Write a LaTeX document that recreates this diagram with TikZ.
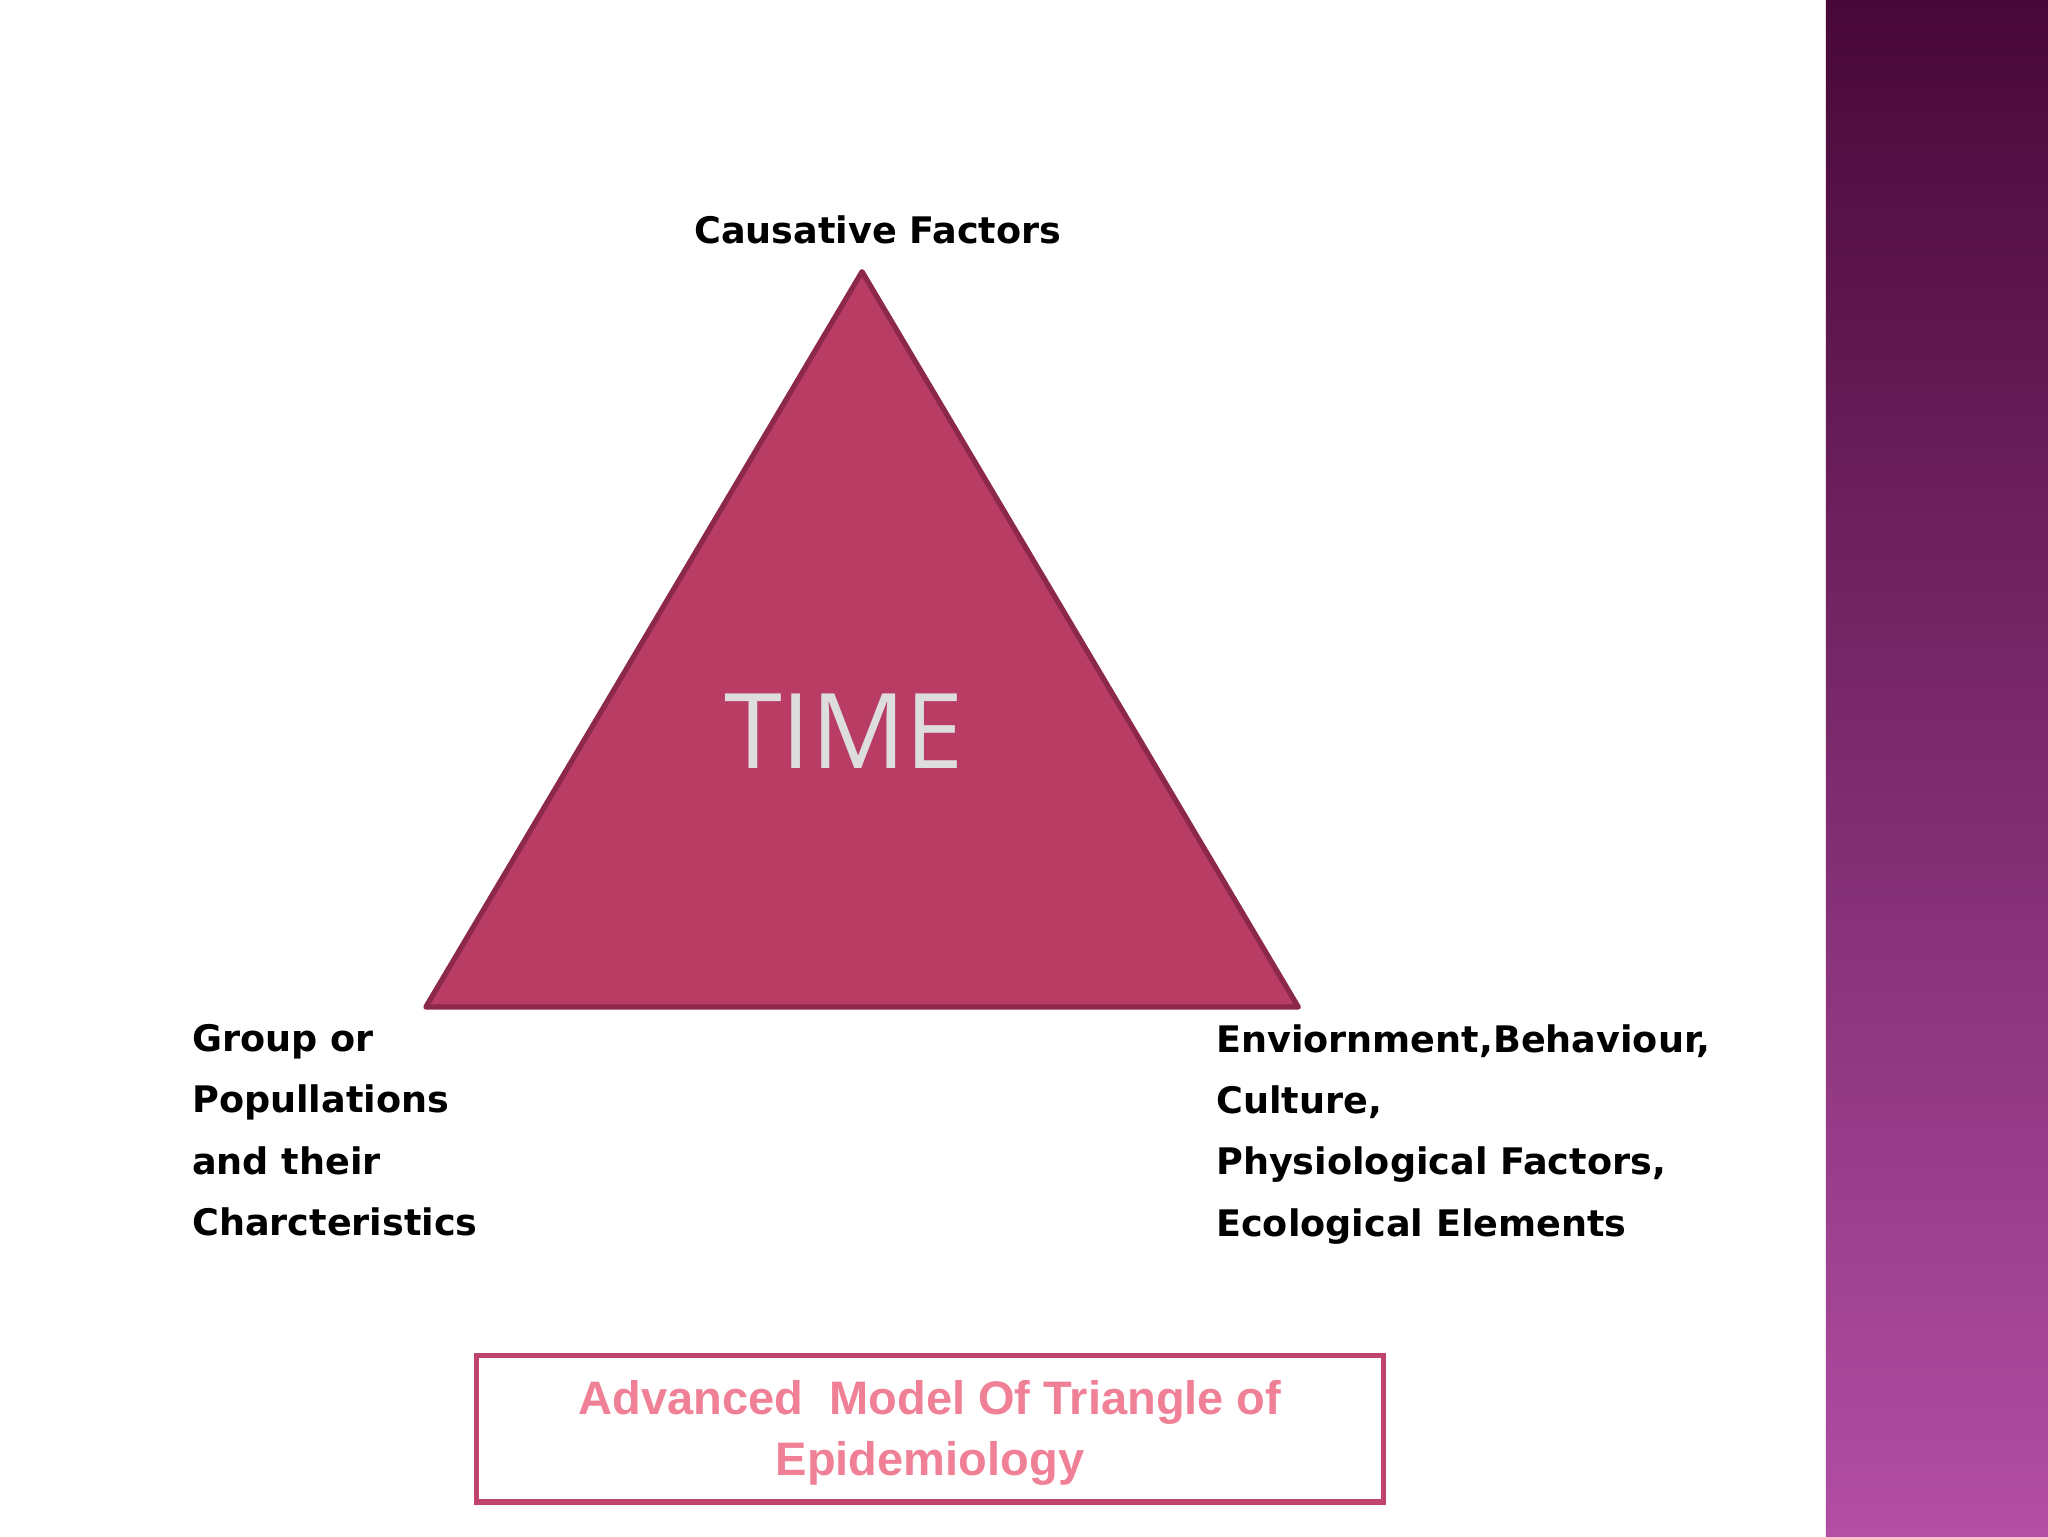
\documentclass[tikz,border=0pt]{standalone}
\usepackage{fontspec}
\setmainfont{DejaVu Sans}
\newfontfamily\timefont{Open Sans}
\newfontfamily\capfont{Liberation Sans}
\begin{document}
\begin{tikzpicture}[x=1pt,y=-1pt,
  lbl/.style={font=\bfseries\fontsize{28}{47}\selectfont,align=left,inner sep=0pt}]
\useasboundingbox (0,0) rectangle (1568,1176);
\fill[white] (0,0) rectangle (1568,1176);
\shade[top color={rgb,255:red,72;green,8;blue,56}, bottom color={rgb,255:red,178;green,78;blue,164}] (1398,0) rectangle (1568,1176);
\coordinate (top) at (660,208);
\coordinate (bl) at (326,771);
\coordinate (br) at (994,771);
\draw[line width=4pt, draw={rgb,255:red,140;green,40;blue,76}, fill={rgb,255:red,184;green,60;blue,100}, line join=round] (top) -- (bl) -- (br) -- cycle;
\node (time) at (646,560) {\timefont\fontsize{80}{80}\selectfont\color[RGB]{221,221,221}TIME};
\node[lbl] (cf) at (672,176) {Causative Factors};
\node[lbl,anchor=north west] (grp) at (147,784) {Group or\\Popullations\\and their\\Charcteristics};
\node[lbl,anchor=north west] (env) at (931,784) {Enviornment,Behaviour,\\Culture,\\Physiological Factors,\\Ecological Elements};
\draw[line width=4pt, draw={rgb,255:red,192;green,68;blue,108}] (365,1038) rectangle (1059,1150);
\node[align=center, font=\capfont\bfseries\fontsize{36}{47}\selectfont, text={rgb,255:red,240;green,128;blue,150}] (cap) at (712,1097) {Advanced\ \ Model Of Triangle of\\Epidemiology};
\end{tikzpicture}
\end{document}
